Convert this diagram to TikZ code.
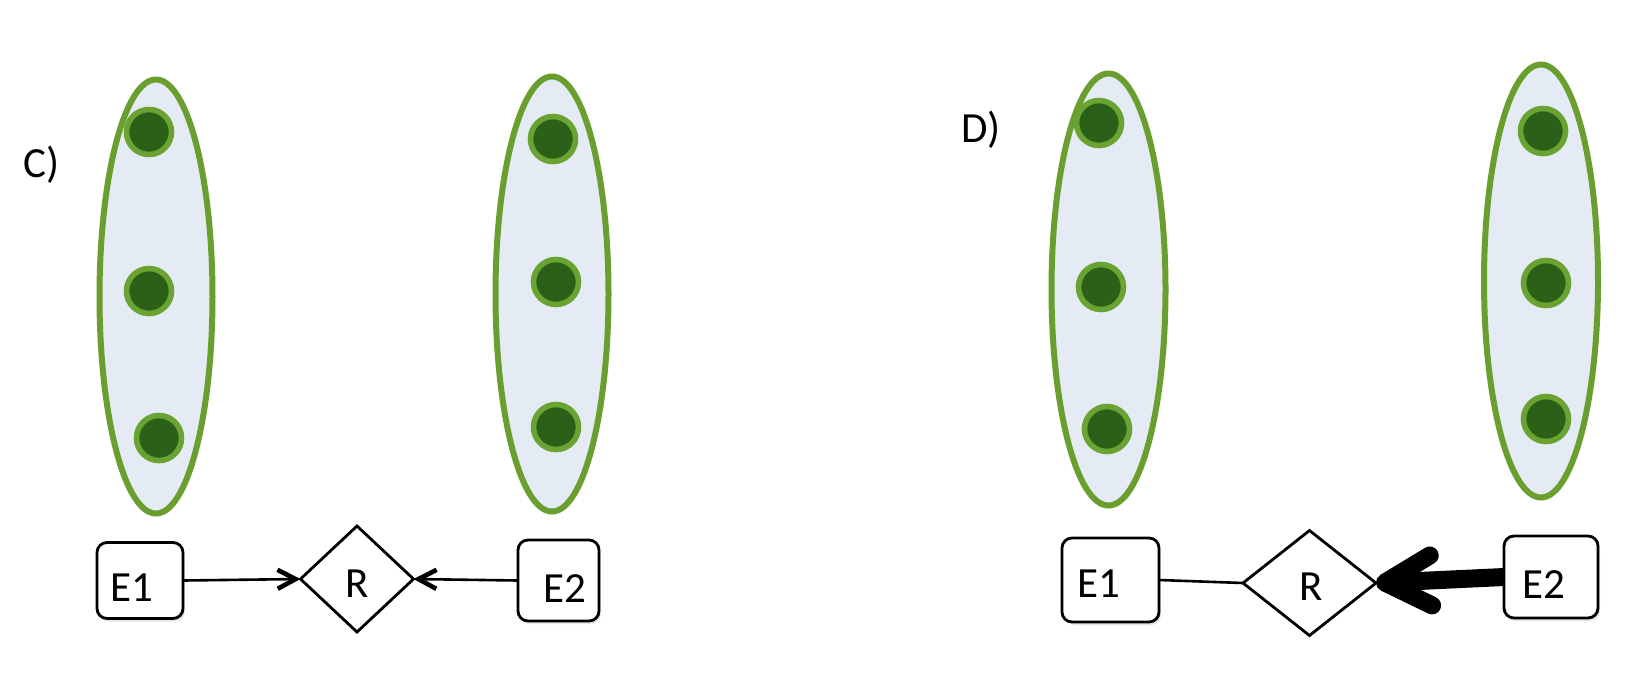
\documentclass[tikz,border=0pt]{standalone}
\usepackage{fontspec}
\setmainfont{Carlito}
\usetikzlibrary{shapes.geometric,arrows.meta,shadows}
\definecolor{setfill}{HTML}{E4EBF5}
\definecolor{setline}{HTML}{6A9F2F}
\definecolor{dotfill}{HTML}{2A6018}
\definecolor{dotline}{HTML}{6AA332}
\begin{document}
\begin{tikzpicture}[x=0.5pt,y=-0.5pt,
  setell/.style={ellipse, draw=setline, fill=setfill, line width=3pt, inner sep=0pt, outer sep=0pt},
  elem/.style={circle, draw=dotline, fill=dotfill, line width=2.8pt, minimum size=22.5pt, inner sep=0pt},
  ebox/.style={rectangle, rounded corners=5pt, draw=black, line width=1.4pt, fill=white, inner sep=0pt, outer sep=0pt,
    drop shadow={shadow xshift=1pt, shadow yshift=-1.5pt, opacity=0.18}},
  rel/.style={diamond, draw=black, line width=1.4pt, fill=white, inner sep=0pt, outer sep=0pt},
  lbl/.style={font=\fontsize{21.5}{25}\selectfont, inner sep=0pt},
  tag/.style={font=\fontsize{21.5}{25}\selectfont, inner sep=0pt, anchor=base west},
  conn/.style={line width=1.3pt},
  barb/.style={line width=1.3pt, -{Straight Barb[length=9pt,width=9.5pt,line width=2.3pt]}},
  fat/.style={line width=9pt, -{Straight Barb[length=23pt,width=25pt,line width=9pt,round]}}
]
\fill[white] (0,0) rectangle (1638,682);
\useasboundingbox (0,0) rectangle (1638,682);

% ---- C ----
\node[tag] (ctag) at (23,177) {C)};
\node[setell, minimum width=56.5pt, minimum height=217pt] (cs1) at (156,296.5) {};
\node[setell, minimum width=56.5pt, minimum height=217.5pt] (cs2) at (552,294) {};
\node[elem] (ca1) at (149,132) {};
\node[elem] (ca2) at (149,291) {};
\node[elem] (ca3) at (159,438) {};
\node[elem] (cb1) at (553,139) {};
\node[elem] (cb2) at (556,282) {};
\node[elem] (cb3) at (556,427) {};

\node[ebox, minimum width=43pt, minimum height=38pt] (ce1) at (140,580.5) {};
\node[ebox, minimum width=40.5pt, minimum height=40.5pt] (ce2) at (558.5,580.5) {};
\node[rel, minimum width=56.5pt, minimum height=53pt] (cr) at (357,579) {};
\node[lbl] (ce1t) at (132,588) {E1};
\node[lbl] (ce2t) at (565,589) {E2};
\node[lbl] (crt) at (357,584) {R};
\draw[barb] (ce1.east) -- (cr.west);
\draw[barb] (ce2.west) -- (cr.east);

% ---- D ----
\node[tag] (dtag) at (961,142) {D)};
\node[setell, minimum width=57pt, minimum height=216pt] (ds1) at (1108.5,289.5) {};
\node[setell, minimum width=57pt, minimum height=216.5pt] (ds2) at (1541,281) {};
\node[elem] (da1) at (1099,123) {};
\node[elem] (da2) at (1101,287) {};
\node[elem] (da3) at (1107,429) {};
\node[elem] (db1) at (1543,131) {};
\node[elem] (db2) at (1546,283) {};
\node[elem] (db3) at (1546,419) {};

\node[ebox, minimum width=48.5pt, minimum height=42pt] (de1) at (1110.5,580) {};
\node[ebox, minimum width=47pt, minimum height=41pt] (de2) at (1551,577) {};
\node[rel, minimum width=66.5pt, minimum height=52.5pt] (dr) at (1309.5,583) {};
\node[lbl] (de1t) at (1099,584) {E1};
\node[lbl] (de2t) at (1544,585) {E2};
\node[lbl] (drt) at (1311,587) {R};
\draw[conn] (de1.east) -- (dr.west);
\draw[fat] (de2.west) -- (dr.east);
\end{tikzpicture}
\end{document}
